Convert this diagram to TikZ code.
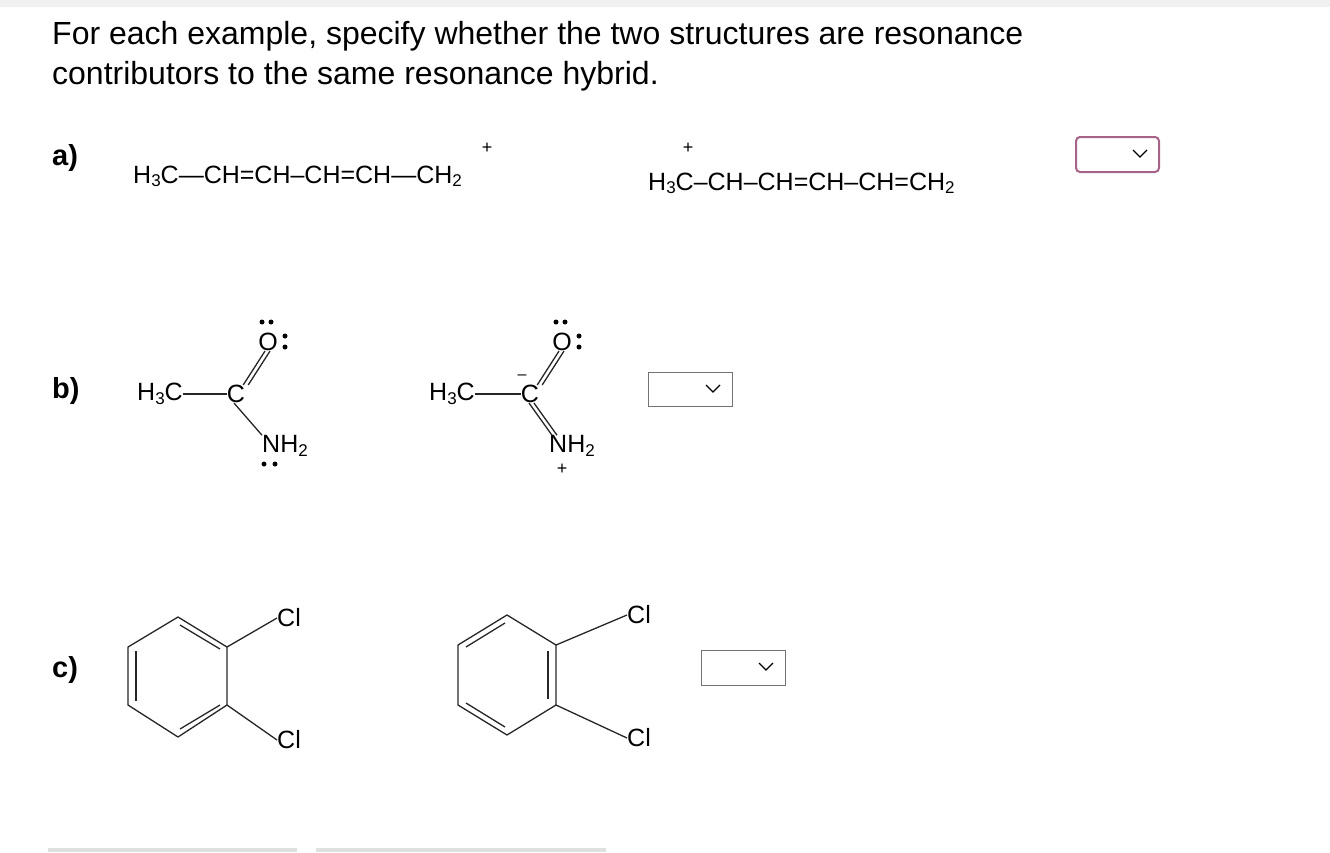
\documentclass[tikz,border=0pt]{standalone}
\usepackage{fontspec}
\setmainfont{Liberation Sans}
\newcommand{\chsub}[1]{\raisebox{-0.3ex}{\fontsize{17}{17}\selectfont #1}}
\begin{document}
\begin{tikzpicture}[x=1pt,y=-1pt,
  txt/.style={inner sep=0pt,anchor=base west,font=\fontsize{32}{38}\selectfont},
  lbl/.style={inner sep=0pt,anchor=base west,font=\fontsize{29}{34}\selectfont\bfseries},
  chem/.style={inner sep=0pt,font=\fontsize{25}{30}\selectfont},
  bond/.style={line width=1.3pt,black!85},
  dd/.style={draw=black!55,line width=1pt,fill=white},
  dot/.style={circle,fill=black,inner sep=0pt,minimum size=5pt}]
\useasboundingbox (0,0) rectangle (1330,852);
\fill[black!6] (0,0) rectangle (1330,7);
\node[txt] (t1) at (52,44) {For each example, specify whether the two structures are resonance};
\node[txt] (t2) at (52,84) {contributors to the same resonance hybrid.};
% a
\node[lbl] (la) at (52,165) {a)};
\node[chem,anchor=base west] (a1) at (133,183) {H\chsub{3}C—CH=CH–CH=CH—CH\chsub{2}};
\node[chem] (a1p) at (487,148) {\fontsize{18}{18}\selectfont +};
\node[chem,anchor=base west] (a2) at (648,190) {H\chsub{3}C–CH–CH=CH–CH=CH\chsub{2}};
\node[chem] (a2p) at (688,148) {\fontsize{18}{18}\selectfont +};
\draw[draw=black!30!magenta!60!gray,line width=2pt,rounded corners=4pt] (1076,137) rectangle (1159,172);
\draw[line width=1.2pt] (1133,150)--(1140,157)--(1147,150);
% b left
\node[lbl] (lb) at (52,398) {b)};
\node[chem] (bh) at (160,394) {H\chsub{3}C};
\node[chem] (bc) at (236,394) {C};
\node[chem] (bo) at (268,342) {O};
\node[chem,anchor=west] (bn) at (262,446) {NH\chsub{2}};
\draw[bond] (bh.east)--(bc.west);
\draw[bond] ([xshift=-2pt]bc.north east)--([xshift=-3pt]bo.south);
\draw[bond] ([xshift=3pt]bc.north east)--([xshift=2pt]bo.south);
\draw[bond] ([xshift=-2pt]bc.south)--(bn.north west);
\node[dot] at (262,322){};\node[dot] at (271,322){};
\node[dot] at (285,336){};\node[dot] at (285,347){};
\node[dot] at (264,464){};\node[dot] at (275,464){};
% b right
\node[chem] (rh) at (452,394) {H\chsub{3}C};
\node[chem] (rc) at (530,394) {C};
\node[chem] (ro) at (562,342) {O};
\node[chem,anchor=west] (rn) at (549,446) {NH\chsub{2}};
\node[chem] (rm) at (522,377) {\fontsize{16}{16}\selectfont –};
\node[chem] (rp) at (562,469) {\fontsize{18}{18}\selectfont +};
\draw[bond] (rh.east)--(rc.west);
\draw[bond] ([xshift=-2pt]rc.north east)--([xshift=-3pt]ro.south);
\draw[bond] ([xshift=3pt]rc.north east)--([xshift=2pt]ro.south);
\draw[bond] ([xshift=-1pt]rc.south)--([xshift=3pt]rn.north west);
\draw[bond] ([xshift=4pt]rc.south)--([xshift=8pt]rn.north west);
\node[dot] at (556,322){};\node[dot] at (565,322){};
\node[dot] at (579,336){};\node[dot] at (579,347){};
\draw[dd] (648,372) rectangle (732,406);
\draw[line width=1.2pt] (706,385)--(713,392)--(720,385);
% c left
\node[lbl] (lc) at (52,677) {c)};
\coordinate (p1) at (178,617);\coordinate (p2) at (227,647);\coordinate (p3) at (227,705);
\coordinate (p4) at (178,737);\coordinate (p5) at (128,705);\coordinate (p6) at (128,647);
\draw[bond,line join=round] (p1)--(p2)--(p3)--(p4)--(p5)--(p6)--cycle;
\draw[bond] (180,625)--(220,649);\draw[bond] (136,651)--(136,701);\draw[bond] (180,729)--(220,705);
\node[chem,anchor=west] (cl1) at (277,618) {Cl};\node[chem,anchor=west] (cl2) at (277,740) {Cl};
\draw[bond] (p2)--(cl1.west);\draw[bond] (p3)--(cl2.west);
% c right
\coordinate (q1) at (507,615);\coordinate (q2) at (556,645);\coordinate (q3) at (556,705);
\coordinate (q4) at (507,735);\coordinate (q5) at (458,705);\coordinate (q6) at (458,645);
\draw[bond,line join=round] (q1)--(q2)--(q3)--(q4)--(q5)--(q6)--cycle;
\draw[bond] (505,623)--(466,647);\draw[bond] (548,651)--(548,699);\draw[bond] (505,727)--(466,703);
\node[chem,anchor=west] (cl3) at (627,615) {Cl};\node[chem,anchor=west] (cl4) at (627,738) {Cl};
\draw[bond] (q2)--(cl3.west);\draw[bond] (q3)--(cl4.west);
\draw[dd] (701,650) rectangle (785,685);
\draw[line width=1.2pt] (759,663)--(766,670)--(773,663);
% bottom bars
\fill[black!12] (48,848) rectangle (297,852);
\fill[black!12] (316,848) rectangle (606,852);
\end{tikzpicture}
\end{document}
